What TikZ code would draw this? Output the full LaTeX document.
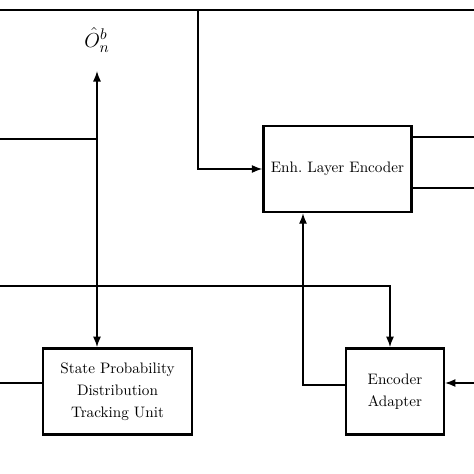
\documentclass[tikz,border=0pt]{standalone}
\usepackage{amsmath}
\usetikzlibrary{positioning, arrows.meta}

\tikzset{
  block/.style = {draw, line width=1.8pt, align=center, font=\fontsize{10.8}{15.5}\selectfont},
  wire/.style = {line width=0.9pt},
  >={Latex[length=2.6mm, width=2mm]}
}

\begin{document}
\begin{tikzpicture}[x=0.025cm, y=-0.025cm]
    \useasboundingbox (0,0) rectangle (474,474);

    \node[block, minimum width=3.7cm, minimum height=2.15cm] (enc) at (337.5,169) {Enh.\ Layer Encoder};
    \node[block, minimum width=3.72cm, minimum height=2.16cm] (spd) at (117.5,391.5) {State Probability\\Distribution\\Tracking Unit};
    \node[block, minimum width=2.44cm, minimum height=2.16cm] (ada) at (395,391.5) {Encoder\\Adapter};
    \node[font=\fontsize{15}{18}\selectfont] (out) at (97,40) {$\hat{O}_n^b$};

    \coordinate (tl) at (0,10);
    \coordinate (tr) at (474,10);
    \coordinate (tap) at (198,10);
    \coordinate (r1) at (474,137);
    \coordinate (r2) at (474,188);
    \coordinate (l1) at (0,139);
    \coordinate (j1) at (97,139);
    \coordinate (l2) at (0,286);
    \coordinate (l3) at (0,383);
    \coordinate (r3) at (474,383);
    \coordinate (fb) at (303,385);

    \draw[wire] (tl) -- (tr);
    \draw[wire, ->] (tap) |- (enc.west);
    \draw[wire] (r1 -| enc.east) -- (r1);
    \draw[wire] (r2 -| enc.east) -- (r2);

    \draw[wire] (l1) -- (j1);
    \draw[wire, ->, shorten >=10pt] (j1) -- (out.south);
    \draw[wire, ->] (j1) -- (j1 |- spd.north);

    \draw[wire, ->] (l2) -| ([xshift=-0.125cm]ada.north);
    \draw[wire, ->] (fb -| ada.west) -- (fb) -- (fb |- enc.south);

    \draw[wire] (l3) -- (l3 -| spd.west);
    \draw[wire, ->] (r3) -- (r3 -| ada.east);
  \end{tikzpicture}
\end{document}
